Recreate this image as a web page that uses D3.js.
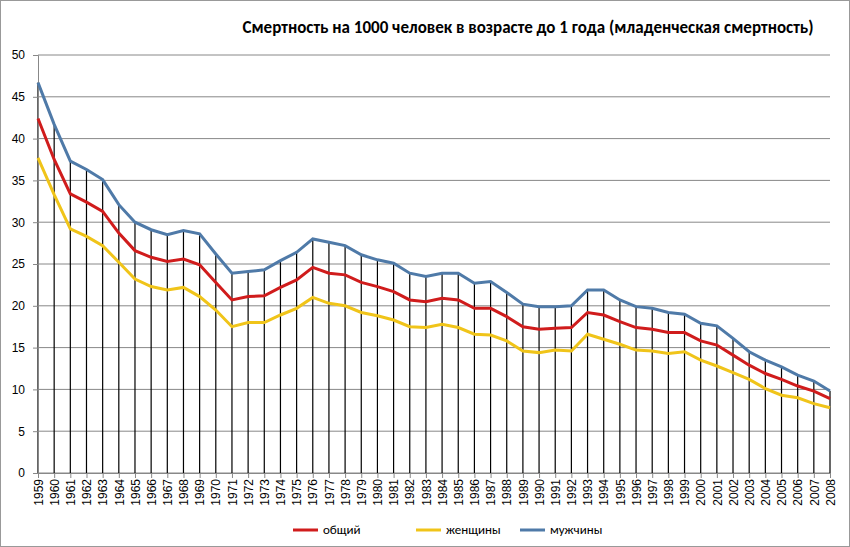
<!DOCTYPE html><html><head><meta charset="utf-8"><script src="https://cdn.jsdelivr.net/npm/d3@7"></script>
<style>body{margin:0;background:#fff}svg{font-family:Calibri,"Liberation Sans",Arial,sans-serif}</style></head><body>
<script>
const years=d3.range(1959,2009).map(String);
const total=[42.4,37.5,33.4,32.4,31.3,28.7,26.6,25.8,25.3,25.6,24.9,22.8,20.7,21.1,21.2,22.2,23.1,24.6,23.9,23.7,22.8,22.3,21.7,20.7,20.5,20.9,20.7,19.7,19.7,18.7,17.5,17.2,17.3,17.4,19.2,18.9,18.1,17.4,17.2,16.8,16.8,15.8,15.3,14.1,12.9,11.9,11.2,10.4,9.8,8.9];
const women=[37.7,33.3,29.2,28.3,27.2,25.2,23.2,22.3,21.9,22.2,21.1,19.5,17.5,18,18,18.9,19.7,21,20.3,20,19.2,18.8,18.3,17.5,17.4,17.8,17.4,16.6,16.5,15.8,14.6,14.4,14.7,14.6,16.6,16,15.4,14.7,14.6,14.3,14.5,13.5,12.8,12,11.2,10.1,9.3,9,8.3,7.8];
const men=[46.7,41.7,37.3,36.3,35.1,32.1,30,29.1,28.5,29,28.6,26.2,23.9,24.1,24.3,25.4,26.4,28,27.6,27.2,26.1,25.5,25.1,23.9,23.5,23.9,23.9,22.7,22.9,21.6,20.2,19.9,19.9,20,21.9,21.9,20.7,19.9,19.7,19.2,19,17.9,17.6,16.1,14.5,13.5,12.7,11.7,11,9.8];
const series=[{name:"общий",v:total,c:"#d01c1c"},{name:"женщины",v:women,c:"#f0c419"},{name:"мужчины",v:men,c:"#4f7aa8"}];
const yTicks=d3.range(0,51,5);
const W=850,H=547;
const svg=d3.select("body").append("svg").attr("width",W).attr("height",H);
svg.append("rect").attr("x",0.5).attr("y",0.5).attr("width",W-1).attr("height",H-1).attr("fill","#fff").attr("stroke","#999");
const x=d3.scalePoint().domain(years).range([38,830]);
const y=d3.scaleLinear().domain([0,50]).range([473,55]);
svg.append("g").selectAll("line").data(yTicks).join("line").attr("x1",38).attr("x2",830).attr("y1",d=>y(d)).attr("y2",d=>y(d)).attr("stroke","#888");
svg.append("g").selectAll("line").data(years).join("line").attr("x1",d=>x(d)).attr("x2",d=>x(d)).attr("y1",y(0)).attr("y2",(d,i)=>y(men[i])).attr("stroke","#000").attr("stroke-width",1.2);
const ya=svg.append("g").attr("transform","translate(38,0)").call(d3.axisLeft(y).tickValues(yTicks).tickSize(5).tickPadding(8));
ya.selectAll("text").attr("font-size",12).attr("fill","#000");
ya.selectAll("line,path").attr("stroke","#888");
const xa=svg.append("g").attr("transform",`translate(0,${y(0)})`).call(d3.axisBottom(x).tickSize(5));
xa.selectAll("path,line").attr("stroke","#888");
xa.selectAll("text").attr("font-size",12).attr("fill","#000").attr("transform","rotate(-90)").attr("text-anchor","end").attr("x",-6).attr("y",0).attr("dy","0.35em");
const line=v=>d3.line().x((d,i)=>x(years[i])).y(d=>y(d))(v);
svg.append("g").selectAll("path").data(series).join("path").attr("d",d=>line(d.v)).attr("fill","none").attr("stroke",d=>d.c).attr("stroke-width",3);
svg.append("text").attr("x",528).attr("y",33).attr("text-anchor","middle").attr("font-size",17).attr("font-weight","bold").text("Смертность на 1000 человек  в возрасте до 1 года (младенческая смертность)");
const lx=[293,416,520];
const lg=svg.append("g").selectAll("g").data(series).join("g").attr("transform",(d,i)=>`translate(${lx[i]},530)`);
lg.append("line").attr("x1",0).attr("x2",25).attr("stroke",d=>d.c).attr("stroke-width",3);
lg.append("text").attr("x",30).attr("y",4).attr("font-size",13).text(d=>d.name);
</script></body></html>
